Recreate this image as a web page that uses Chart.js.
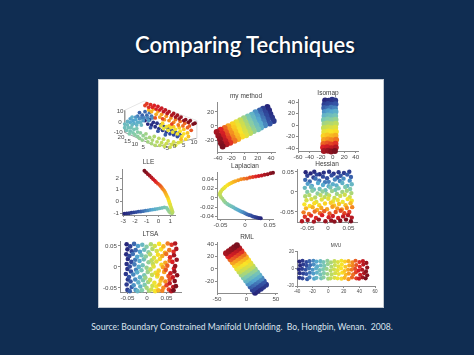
<!DOCTYPE html>
<html>
<head>
<meta charset="utf-8">
<title>Comparing Techniques</title>
<script src="https://cdn.jsdelivr.net/npm/chart.js@4"></script>
<style>
  html, body { margin: 0; padding: 0; background: #102d52; overflow: hidden; }
  #slide { position: relative; width: 474px; height: 355px; background: #102d52; overflow: hidden; }
  #heading { position: absolute; left: 8px; width: 474px; top: 31px; text-align: center; color: #fff;
    font: 600 22px Lato, sans-serif; text-shadow: 1px 1px 2px #06162c; }
  #source { position: absolute; left: 5px; width: 474px; top: 322px; text-align: center; color: #dce4ee;
    font: 8.6px Lato, sans-serif; white-space: pre; }
  #panel { position: absolute; left: 98px; top: 79px; width: 284px; height: 227px; background: #fff;
    border: 1px solid #c4cad2; }
  canvas { position: absolute; filter: blur(0.35px); }
</style>
</head>
<body>
<div id="slide">
  <div id="heading">Comparing Techniques</div>
  <div id="panel"></div>
  <div id="source">Source: Boundary Constrained Manifold Unfolding.  Bo, Hongbin, Wenan.  2008.</div>
</div>
<script>
// every series is listed from the blue end to the red end, colour follows the order

// swiss roll, already flattened to the picture plane
const rollX = [-11,-8,-6,-4,-2,0,2,4,6,8,10,12,14,16,18,20,22,24,26,28,-5,3,11,
  -17,-14,-11,-9,-6,-4,-19,-15,-12,-8,-3,-17,-21,-7,-13,
  -27,-24,-21,-27,-23,-19,-25,-16,-30,-20,-25,-15,
  -33,-30,-33,-29,-26,-31,-27,-23,-20,-24,-28,-19,
  -22,-19,-16,-17,-13,-14,-10,-10,-8,-6,-4,-3,-1,0,2,4,5,7,9,10,12,14,16,18,20,22,25,28,
  6,9,12,14,17,19,22,24,27,29,31,33,8,15,20,26,31,35,36,28,
  -7,-4,-2,1,3,5,7,10,12,15,17,20,22,25,27,30,32,35,37,39,0,8,18,
  -11,-9,-7,-5,-3,-1,1,3,5,7,9,11,13,15,18,20,22,24,26,28,31,33,36,38,41,43];
const rollY = [5,1,6,0,3,-2,2,-4,0,-6,-2,-8,-4,-10,-6,-11,-8,-13,-9,-12,-3,-7,-11,
  14,11,15,11,14,10,10,8,8,8,8,7,9,5,5,
  7,5,6,3,2,3,9,3,4,0,0,0,
  1,0,-3,-3,-3,-6,-7,-5,-4,-9,-10,-8,
  -11,-13,-9,-15,-12,-17,-15,-10,-19,-14,-21,-17,-13,-23,-19,-15,-23,-20,-16,-24,-21,-18,-25,-22,-19,-23,-20,-19,
  -1,-4,-2,-6,-3,-8,-5,-10,-7,-13,-10,-16,2,-1,-2,-3,-5,-9,-13,-16,
  17,15,18,12,15,9,12,6,10,5,8,3,6,0,4,-1,2,-3,-1,-6,8,7,1,
  22,24,20,23,20,22,18,21,17,19,15,17,13,15,11,13,9,11,7,9,5,6,3,5,1,2];
const rollTickText = ['10','0','-10','20','15','10','5','-5','0','5','10'];
const rollTickX = [-38,-38,-40,-37,-30,-22,-13,12,21,31,42];
const rollTickY = [15,3,-8,-14,-18,-22,-25,-26,-24,-23,-19];
const rollFloorX = [-33,-33,1.7,45];
const rollFloorY = [16.7,-8.3,-24.3,-15];
const rollBackX = [-33,-12,45,45];
const rollBackY = [16.7,27,5,-15];

const myMethodX = [34.5,37,39,41.5,44, 28,31.5,33,35,38, 23,25,27.5,29,31, 16.5,19.5,21,23.5,25,
  11,13,15,18,20.5, 5,7.5,9.5,12,14, -1,1.5,3.5,6,8.5, -6.5,-4,-2,0.5,2.5,
  -12.5,-10,-8,-6.5,-3.5, -18,-16,-14,-11.5,-9.5, -24.5,-22.5,-20,-18,-15, -30,-28,-26,-24,-21.5,
  -36,-33.5,-32,-29,-27, -42,-39.5,-37,-35.5,-33];
const myMethodY = [27,22.5,17,12,7, 24.5,19,14.5,9,3.5, 22,16.5,11,6.5,1, 19.5,14,9,3.5,-2,
  16,11.5,6,1,-4.5, 13.5,8,3.5,-2.5,-7, 11,5.5,0.5,-4.5,-10, 8,3,-2.5,-7.5,-13,
  5.5,0.5,-5,-10.5,-15, 2.5,-3,-8,-13,-18.5, -0.5,-6,-10.5,-16,-21, -3,-8.5,-13.5,-18,-24,
  -5.5,-11,-16,-21.5,-26, -8.5,-14,-19,-24.5,-29];
const myMethodXTicks = [-40,-20,0,20,40];
const myMethodYTicks = [-20,0,20];

const isomapX = [-13,-7,-1,4.5, -14,-8,-2,5, -14.5,-8.5,-2.5,4, -13.5,-7.5,-1,5, -14,-8,-3,4.5,
  -15,-8.5,-1.5,5, -14,-9,-2,5.5, -15,-8,-2,4.5, -14.5,-7.5,-2.5,5.5, -15.5,-9,-1.5,5,
  -15,-8,-2,6, -16,-9,-3,5, -16.5,-9.5,-2,5.5, -15,-8,-2.5,4];
const isomapY = [43,42.5,44,43, 36,37,35.5,36.5, 30,29,30.5,29, 23,24,22.5,23.5, 16,17,15.5,16,
  9,10,8.5,9.5, 2,3,1.5,2.5, -5,-4,-5.5,-4.5, -12,-11,-12.5,-11.5, -19,-18,-19.5,-18.5,
  -26,-25,-26.5,-25.5, -33,-32,-33.5,-32.5, -39,-38.5,-40,-39, -45,-44.5,-46,-45];
const isomapXTicks = [-60,-40,-20,0,20,40];
const isomapYTicks = [-40,-20,0,20,40];

const lleX = [-2.9,-2.7,-2.5,-2.3,-2.1,-1.9,-1.7,-1.5,-1.3,-1.1,-0.9,-0.7,-0.5,-0.3,-0.1,0.1,0.3,0.5,0.7,0.8,0.9,1,1.15,
  1.2,1.15,1.1,1.05,1,0.95,0.9,0.85,0.8,0.72,0.65,0.58,0.5,0.4,0.3,0.2,0.1,-0.05,-0.2,-0.32,-0.45,-0.6,-0.75,-0.9,-1.05,-1.2];
const lleY = [-1.03,-1.02,-1,-0.96,-0.93,-0.9,-0.87,-0.85,-0.82,-0.78,-0.76,-0.72,-0.69,-0.66,-0.62,-0.58,-0.55,-0.5,-0.55,-0.7,-0.85,-0.95,-1,
  -0.9,-0.75,-0.6,-0.45,-0.3,-0.15,0,0.15,0.3,0.45,0.6,0.75,0.9,1.03,1.15,1.28,1.4,1.52,1.65,1.78,1.9,2.05,2.2,2.33,2.48,2.62];
const lleXTicks = [-3,-2,-1,0,1];
const lleYTicks = [-1,0,1,2];

const laplacianX = [0.032,0.028,0.024,0.02,0.016,0.012,0.008,0.004,0,-0.004,-0.008,-0.012,-0.016,-0.02,-0.024,-0.028,-0.032,-0.036,-0.04,-0.043,-0.046,-0.049,-0.051,
  -0.051,-0.049,-0.046,-0.043,-0.04,-0.036,-0.032,-0.028,-0.024,-0.02,-0.014,-0.008,-0.002,0.004,0.01,0.016,0.022,0.028,0.034,0.04,0.046,0.052,0.057];
const laplacianY = [-0.044,-0.043,-0.042,-0.041,-0.04,-0.038,-0.037,-0.035,-0.033,-0.031,-0.029,-0.027,-0.025,-0.023,-0.02,-0.018,-0.016,-0.013,-0.01,-0.006,-0.002,0.002,0.006,
  0.01,0.014,0.018,0.021,0.024,0.027,0.03,0.032,0.034,0.036,0.038,0.04,0.041,0.042,0.044,0.045,0.046,0.047,0.048,0.05,0.051,0.053,0.054];
const laplacianXTicks = [-0.05,0,0.05];
const laplacianYTicks = [-0.04,-0.02,0,0.02,0.04];

const hessianX = [-0.054,-0.042,-0.033,-0.02,-0.01,0.003,0.014,0.026,0.039,0.052,
  -0.05,-0.035,-0.027,-0.012,-0.002,0.009,0.023,0.031,0.047,0.056,
  -0.055,-0.044,-0.03,-0.021,-0.007,0.002,0.017,0.029,0.038,0.053,
  -0.049,-0.039,-0.024,-0.012,0.002,0.012,0.021,0.035,0.047,0.058,
  -0.056,-0.041,-0.034,-0.02,-0.006,0.006,0.018,0.026,0.042,0.054,
  -0.05,-0.038,-0.025,-0.013,-0.003,0.01,0.022,0.035,0.046,0.057,
  -0.055,-0.045,-0.031,-0.018,-0.008,0.003,0.016,0.03,0.041,0.053,
  -0.052,-0.04,-0.028,-0.015,0.001,0.013,0.024,0.036,0.048,0.058,
  -0.057,-0.044,-0.033,-0.021,-0.007,0.007,0.015,0.027,0.043,0.055,
  -0.053,-0.037,-0.026,-0.016,-0.002,0.011,0.023,0.034,0.046,0.059,
  -0.059,-0.046,-0.032,-0.019,-0.009,0.004,0.019,0.031,0.04,0.052,
  -0.056,-0.041,-0.029,-0.014,0.002,0.012,0.025,0.037,0.049,0.058,
  -0.063,-0.049,-0.034,-0.022,-0.006,0.008,0.016,0.03,0.044,0.056];
const hessianY = [0.049,0.046,0.05,0.044,0.048,0.05,0.045,0.049,0.047,0.05,
  0.04,0.036,0.043,0.038,0.034,0.041,0.036,0.04,0.043,0.037,
  0.03,0.026,0.033,0.028,0.024,0.025,0.031,0.027,0.033,0.028,
  0.02,0.015,0.022,0.017,0.014,0.019,0.016,0.022,0.015,0.019,
  0.01,0.012,0.006,0.007,0.004,0.011,0.005,0.009,0.012,0.007,
  0,0.003,-0.004,0.001,-0.005,0.002,-0.005,0,0.003,-0.003,
  -0.011,-0.008,-0.014,-0.008,-0.013,-0.009,-0.015,-0.01,-0.007,-0.013,
  -0.021,-0.018,-0.025,-0.019,-0.017,-0.023,-0.02,-0.025,-0.018,-0.022,
  -0.031,-0.035,-0.028,-0.033,-0.029,-0.027,-0.034,-0.03,-0.033,-0.028,
  -0.041,-0.038,-0.045,-0.04,-0.043,-0.037,-0.041,-0.044,-0.04,-0.038,
  -0.051,-0.055,-0.049,-0.053,-0.048,-0.054,-0.05,-0.047,-0.053,-0.05,
  -0.062,-0.059,-0.065,-0.058,-0.063,-0.06,-0.065,-0.061,-0.058,-0.064,
  -0.073,-0.07,-0.074,-0.069,-0.073,-0.071,-0.074,-0.072,-0.069,-0.073];
const hessianXTicks = [-0.05,0,0.05];
const hessianYTicks = [-0.05,0,0.05];

const ltsaX = [-0.052,-0.05,-0.053,-0.049,-0.052,-0.05,-0.054,-0.049,-0.052,-0.05,
  -0.043,-0.039,-0.045,-0.04,-0.044,-0.041,-0.046,-0.042,-0.039,-0.044,
  -0.033,-0.029,-0.036,-0.03,-0.032,-0.028,-0.035,-0.03,-0.034,-0.029,
  -0.023,-0.018,-0.025,-0.019,-0.021,-0.025,-0.018,-0.022,-0.017,-0.024,
  -0.012,-0.007,-0.014,-0.008,-0.011,-0.014,-0.007,-0.01,-0.006,-0.013,
  -0.001,0.004,-0.003,0.004,-0.001,0.002,-0.004,0.003,-0.001,0.005,
  0.01,0.014,0.008,0.012,0.015,0.009,0.013,0.008,0.014,0.011,
  0.02,0.025,0.018,0.024,0.017,0.022,0.026,0.019,0.024,0.021,
  0.031,0.036,0.028,0.033,0.037,0.03,0.027,0.035,0.032,0.029,
  0.042,0.046,0.039,0.047,0.041,0.044,0.038,0.047,0.042,0.039,
  0.053,0.057,0.049,0.058,0.052,0.048,0.055,0.058,0.05,0.056,
  0.063,0.068,0.059,0.065,0.069,0.06,0.066,0.058,0.067,0.062,
  0.072,0.075,0.069,0.076,0.072,0.07,0.077,0.071,0.074,0.068];
const ltsaY = [0.054,0.042,0.03,0.019,0.007,-0.005,-0.017,-0.03,-0.042,-0.055,
  0.049,0.037,0.026,0.012,0.001,-0.011,-0.024,-0.035,-0.048,-0.058,
  0.055,0.04,0.031,0.017,0.006,-0.007,-0.018,-0.03,-0.044,-0.055,
  0.05,0.036,0.024,0.014,0,-0.013,-0.025,-0.037,-0.047,-0.058,
  0.053,0.041,0.028,0.018,0.004,-0.008,-0.02,-0.032,-0.043,-0.056,
  0.048,0.035,0.025,0.011,-0.002,-0.012,-0.026,-0.036,-0.05,-0.057,
  0.054,0.043,0.03,0.016,0.007,-0.006,-0.019,-0.031,-0.045,-0.054,
  0.05,0.038,0.022,0.013,0.001,-0.014,-0.023,-0.038,-0.047,-0.058,
  0.055,0.042,0.029,0.019,0.005,-0.009,-0.018,-0.033,-0.042,-0.056,
  0.049,0.034,0.026,0.01,-0.001,-0.012,-0.027,-0.035,-0.05,-0.057,
  0.056,0.04,0.031,0.015,0.003,-0.007,-0.022,-0.03,-0.044,-0.054,
  0.053,0.036,0.023,0.012,-0.004,-0.015,-0.025,-0.039,-0.048,-0.058,
  0.056,0.043,0.028,0.017,0.002,-0.011,-0.02,-0.034,-0.046,-0.056];
const ltsaXTicks = [-0.05,0,0.05];
const ltsaYTicks = [-0.05,0,0.05];

const rmlX = [14.7,19.4,24.5,28.6,33.3, 10.9,15.6,20.2,25,29.5, 7.1,12,16.4,21,25.7, 3.3,8,12.6,17,21.9,
  -0.5,4.2,9,13.4,18.1, -4.3,0.4,5,9.6,14.3, -8.1,-3.4,1.2,5.8,10.5, -11.9,-7.2,-2.6,2,6.7,
  -15.7,-11,-6.4,-1.8,2.9, -19.5,-14.8,-10.2,-5.6,-0.9, -23.3,-18.6,-14,-9.4,-4.7, -27.1,-22.4,-17.8,-13.2,-8.5,
  -30.9,-26.2,-21.6,-17,-12.3, -34.7,-30,-25.4,-20.8,-16.1];
const rmlY = [-38.5,-35.2,-32,-28.8,-25.5, -33.6,-30.3,-27,-23.9,-20.6, -28.7,-25.4,-22.2,-19,-15.7, -23.8,-20.5,-17.3,-14,-10.8,
  -18.9,-15.6,-12.4,-9.2,-5.9, -14,-10.7,-7.5,-4.3,-1, -9.1,-5.8,-2.6,0.6,3.9, -4.2,-0.9,2.3,5.5,8.8,
  0.7,4,7.2,10.4,13.7, 5.6,8.9,12.1,15.3,18.6, 10.5,13.8,17,20.2,23.5, 15.4,18.7,21.9,25.1,28.4,
  20.3,23.6,26.8,30,33.3, 25.2,28.5,31.7,34.9,38.2];
const rmlXTicks = [-50,0,50];
const rmlYTicks = [-20,0,20,40];

const mvuX = [-37,-36,-37.5,-36.5,-37, -33,-32,-33.5,-32,-33, -28,-27.5,-29,-28,-27, -24,-23,-24.5,-23.5,-24,
  -19,-18.5,-20,-19,-18, -15,-14,-15.5,-14.5,-15, -10,-9.5,-11,-10,-9, -6,-5,-6.5,-5.5,-6,
  -1,-0.5,-2,-1,0, 3.5,4,3,4.5,3, 8,8.5,7.5,9,8, 12.5,13,12,13.5,12,
  17,17.5,16.5,18,17, 21.5,22,21,22.5,21, 26,27,25.5,26.5,26, 31,31.5,30,32,30.5,
  35,36,34.5,35.5,36, 40,40.5,39,41,39.5, 44.5,45,43.5,46,44, 49,50,48.5,50,48];
const mvuY = [8.5,4,-0.5,-5,-10.5, 9.5,5,0,-5.5,-11, 8,3.5,-1,-6,-12, 9,4.5,0.5,-4.5,-10,
  9.5,5,-1,-5.5,-11.5, 8.5,3,0.5,-4.5,-10.5, 9,4,-1.5,-6.5,-11, 8,3.5,-0.5,-5,-10,
  9.5,5.5,0,-6,-11.5, 7.5,2.5,-2,-6.5,-11, 9,4.5,-0.5,-5,-10.5, 8,3,-1.5,-6,-11,
  9.5,5,0.5,-4.5,-11.5, 8.5,2.5,-2.5,-7,-10.5, 9,4,-1,-5.5,-12, 7.5,3.5,-1,-6.5,-10,
  9.5,4.5,0,-4,-11, 8,2.5,-2,-7,-11.5, 9,5,-1,-5,-10, 7,1.5,-3,-7.5,-11];
const mvuXTicks = [-40,-20,0,20,40,60];
const mvuYTicks = [-20,0,20];

// colour ramp of the scatter, dark blue to dark red
const ramp = ['#26257a','#3452a4','#55a8d0','#7fcab0','#c2dc5a','#fbe425','#f59420','#dc1f26','#7a0f1e'];

function rampColor(t) {
  const pos = t * (ramp.length - 1);
  const i = Math.min(Math.floor(pos), ramp.length - 2);
  const f = pos - i;
  const a = parseInt(ramp[i].slice(1), 16);
  const b = parseInt(ramp[i + 1].slice(1), 16);
  const mix = shift => Math.round(((a >> shift) & 255) * (1 - f) + ((b >> shift) & 255) * f);
  return `rgb(${mix(16)},${mix(8)},${mix(0)})`;
}

function toPoints(xs, ys) {
  return xs.map((x, i) => ({ x: x, y: ys[i] }));
}

function addCanvas(left, top, width, height) {
  const canvas = document.createElement('canvas');
  canvas.width = width;
  canvas.height = height;
  canvas.style.left = left + 'px';
  canvas.style.top = top + 'px';
  canvas.style.width = width + 'px';
  canvas.style.height = height + 'px';
  document.getElementById('slide').appendChild(canvas);
  return canvas;
}

const Y_AXIS_W = 22, X_AXIS_H = 10, RIGHT_GAP = 8;

function axisOptions(min, max, tickValues, fontSize, isY) {
  return {
    type: 'linear',
    min: min,
    max: max,
    border: { color: '#8c8c8c', width: 1 },
    grid: { drawOnChartArea: false, tickLength: 2, color: '#8c8c8c' },
    ticks: {
      autoSkip: false,
      maxRotation: 0,
      padding: 1,
      color: '#4a4a4a',
      font: { family: 'Liberation Sans', size: fontSize },
      callback: v => String(v)
    },
    afterBuildTicks: scale => { scale.ticks = tickValues.map(v => ({ value: v })); },
    afterFit: scale => {
      if (isY) scale.width = Y_AXIS_W; else scale.height = X_AXIS_H;
      scale.paddingLeft = scale.paddingRight = scale.paddingTop = scale.paddingBottom = 0;
    }
  };
}

// one small scatter, box = page position of the plot area
function scatterPanel(cfg) {
  const fontSize = cfg.fontSize || 6.2;
  const titleSize = cfg.titleSize || 6.5;
  const titleH = titleSize * 1.2 + cfg.titleGap;
  const [l, t, r, b] = cfg.box;
  const canvas = addCanvas(l - Y_AXIS_W, Math.round(t - titleH), r - l + Y_AXIS_W + RIGHT_GAP, Math.round(b - t + titleH) + X_AXIS_H);
  const n = cfg.xs.length;
  return new Chart(canvas, {
    type: 'scatter',
    data: {
      datasets: [{
        label: cfg.title,
        data: toPoints(cfg.xs, cfg.ys),
        pointRadius: cfg.radius,
        pointBorderWidth: 0,
        pointBackgroundColor: ctx => rampColor(ctx.dataIndex / (n - 1)),
        clip: false
      }]
    },
    options: {
      responsive: false,
      animation: false,
      layout: { padding: { right: RIGHT_GAP } },
      plugins: {
        legend: { display: false },
        tooltip: { enabled: false },
        title: {
          display: true,
          text: cfg.title,
          fullSize: false,
          color: '#3c3c3c',
          font: { family: 'Liberation Sans', size: titleSize, weight: 'normal', lineHeight: 1.2 },
          padding: { top: 0, bottom: cfg.titleGap }
        }
      },
      scales: {
        x: axisOptions(cfg.xRange[0], cfg.xRange[1], cfg.xTicks, fontSize, false),
        y: axisOptions(cfg.yRange[0], cfg.yRange[1], cfg.yTicks, fontSize, true)
      }
    }
  });
}

// tick text of the 3d panel sits at projected positions, no real axis for it
const rollTickLabels = {
  id: 'rollTickLabels',
  afterDatasetsDraw(chart) {
    const ctx = chart.ctx;
    ctx.save();
    ctx.font = '6.2px "Liberation Sans"';
    ctx.fillStyle = '#4a4a4a';
    ctx.textAlign = 'center';
    ctx.textBaseline = 'middle';
    rollTickText.forEach((text, i) => {
      ctx.fillText(text, chart.scales.x.getPixelForValue(rollTickX[i]), chart.scales.y.getPixelForValue(rollTickY[i]));
    });
    ctx.restore();
  }
};

function rollPanel() {
  const canvas = addCanvas(105, 90, 105, 70);
  const n = rollX.length;
  const lineSet = (xs, ys, color) => ({
    type: 'line', data: toPoints(xs, ys), borderColor: color, borderWidth: 1, pointRadius: 0, tension: 0
  });
  return new Chart(canvas, {
    type: 'scatter',
    data: {
      datasets: [
        {
          label: 'swiss roll',
          data: toPoints(rollX, rollY),
          pointRadius: 1.9,
          pointBorderWidth: 0,
          pointBackgroundColor: ctx => rampColor(ctx.dataIndex / (n - 1)),
          clip: false
        },
        lineSet(rollBackX, rollBackY, '#e6e6e6'),
        lineSet(rollFloorX, rollFloorY, '#9a9a9a')
      ]
    },
    options: {
      responsive: false,
      animation: false,
      plugins: { legend: { display: false }, tooltip: { enabled: false } },
      scales: {
        x: { type: 'linear', min: -50, max: 55, display: false },
        y: { type: 'linear', min: -35, max: 35, display: false }
      }
    },
    plugins: [rollTickLabels]
  });
}

rollPanel();

scatterPanel({ title: 'my method', box: [217, 103, 275, 152], xs: myMethodX, ys: myMethodY, radius: 3,
  xRange: [-41.5, 46], yRange: [-37, 33], xTicks: myMethodXTicks, yTicks: myMethodYTicks, titleGap: 3 });
scatterPanel({ title: 'Isomap', box: [298, 99, 358, 151], xs: isomapX, ys: isomapY, radius: 3,
  xRange: [-60, 44], yRange: [-45, 45], xTicks: isomapXTicks, yTicks: isomapYTicks, titleGap: 2.5 });
scatterPanel({ title: 'LLE', box: [122, 170, 175, 215], xs: lleX, ys: lleY, radius: 1.9,
  xRange: [-3.1, 1.4], yRange: [-1.15, 2.7], xTicks: lleXTicks, yTicks: lleYTicks, titleGap: 4 });
scatterPanel({ title: 'Laplacian', box: [217, 173, 273, 219], xs: laplacianX, ys: laplacianY, radius: 2,
  xRange: [-0.057, 0.057], yRange: [-0.0454, 0.054], xTicks: laplacianXTicks, yTicks: laplacianYTicks, titleGap: 3 });
scatterPanel({ title: 'Hessian', box: [297, 170, 357, 222], xs: hessianX, ys: hessianY, radius: 2.2,
  xRange: [-0.075, 0.0707], yRange: [-0.075, 0.055], xTicks: hessianXTicks, yTicks: hessianYTicks, titleGap: 2 });
scatterPanel({ title: 'LTSA', box: [120, 242, 181, 292], xs: ltsaX, ys: ltsaY, radius: 2.3,
  xRange: [-0.069, 0.087], yRange: [-0.06, 0.06], xTicks: ltsaXTicks, yTicks: ltsaYTicks, titleGap: 4 });
scatterPanel({ title: 'RML', box: [217, 243, 277, 293], xs: rmlX, ys: rmlY, radius: 3,
  xRange: [-50, 52], yRange: [-39, 42], xTicks: rmlXTicks, yTicks: rmlYTicks, titleGap: 2 });
scatterPanel({ title: 'MVU', box: [297, 252, 375, 286], xs: mvuX, ys: mvuY, radius: 2.1,
  xRange: [-40, 60], yRange: [-20, 20], xTicks: mvuXTicks, yTicks: mvuYTicks, titleGap: 3, fontSize: 4.6, titleSize: 4.8 });
</script>
</body>
</html>
